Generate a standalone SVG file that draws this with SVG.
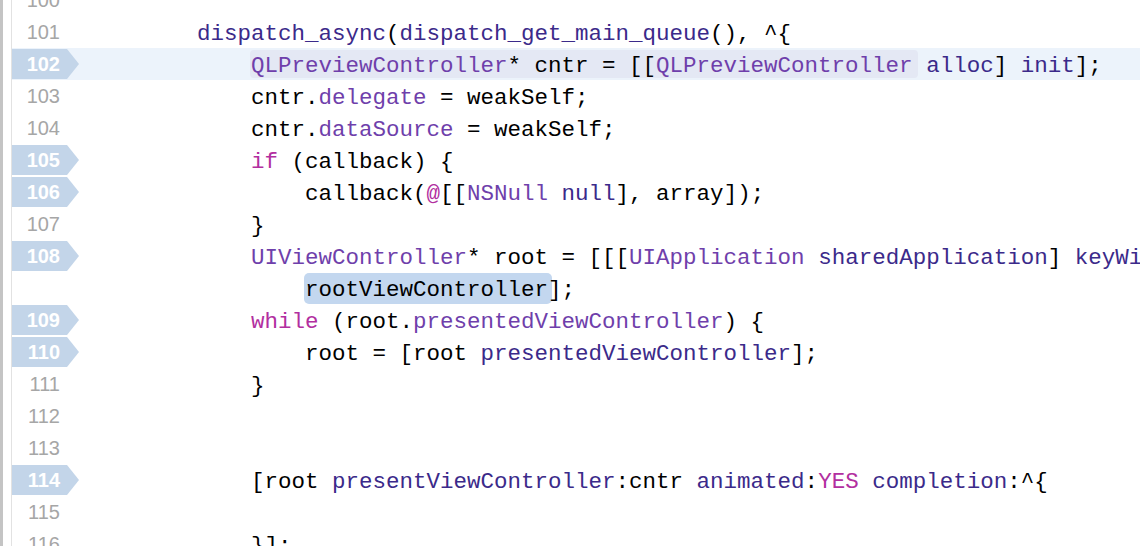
<svg xmlns="http://www.w3.org/2000/svg" width="1140" height="546" viewBox="0 0 1140 546">
<style>
.c{font-family:"Liberation Mono",monospace;font-size:22.5px;fill:#000;white-space:pre}
.n{font-family:"Liberation Sans",sans-serif;font-size:20px;fill:#a6a6a6;text-anchor:end}
.nb{font-family:"Liberation Sans",sans-serif;font-size:20px;fill:#fff;font-weight:bold;text-anchor:end}
.bp{fill:#c3d5e9}
.m{fill:#3b2a8a}.p{fill:#6f3fab}.k{fill:#b22fa0}
</style>
<rect width="1140" height="546" fill="#fff"/>
<rect x="0" y="0" width="3" height="546" fill="#c4c4c4"/>
<rect x="11" y="0" width="1" height="546" fill="#e2e2e2"/>
<rect x="12" y="48" width="1128" height="32" fill="#ecf3fb"/>
<rect x="250" y="50" width="668" height="28" rx="4" fill="#e4e8f4"/>
<rect x="304" y="273" width="248" height="31" rx="5" fill="#c3d7ef"/>
<defs><path id="b" d="M12,-15 H67 L79,0 L67,15 H12 Z"/></defs>
<g id="breakpoints" class="bp">
<use href="#b" y="64"/><use href="#b" y="160"/><use href="#b" y="192"/><use href="#b" y="256"/><use href="#b" y="320"/><use href="#b" y="352"/><use href="#b" y="480"/>
</g>
<g id="gutter">
<text class="n" x="60" y="7">100</text>
<text class="n" x="60" y="39">101</text>
<text class="nb" x="60" y="71">102</text>
<text class="n" x="60" y="103">103</text>
<text class="n" x="60" y="135">104</text>
<text class="nb" x="60" y="167">105</text>
<text class="nb" x="60" y="199">106</text>
<text class="n" x="60" y="231">107</text>
<text class="nb" x="60" y="263">108</text>
<text class="nb" x="60" y="327">109</text>
<text class="nb" x="60" y="359">110</text>
<text class="n" x="60" y="391">111</text>
<text class="n" x="60" y="423">112</text>
<text class="n" x="60" y="455">113</text>
<text class="nb" x="60" y="487">114</text>
<text class="n" x="60" y="519">115</text>
<text class="n" x="60" y="551">116</text>
</g>
<g id="code">
<text class="c" x="197" y="40"><tspan class="m">dispatch_async</tspan>(<tspan class="m">dispatch_get_main_queue</tspan>(), ^{</text>
<text class="c" x="251" y="72"><tspan class="p">QLPreviewController</tspan>* cntr = [[<tspan class="p">QLPreviewController</tspan> <tspan class="m">alloc</tspan>] <tspan class="m">init</tspan>];</text>
<text class="c" x="251" y="104">cntr.<tspan class="p">delegate</tspan> = weakSelf;</text>
<text class="c" x="251" y="136">cntr.<tspan class="p">dataSource</tspan> = weakSelf;</text>
<text class="c" x="251" y="168"><tspan class="k">if</tspan> (callback) {</text>
<text class="c" x="305" y="200">callback(<tspan class="k">@</tspan>[[<tspan class="p">NSNull</tspan> <tspan class="m">null</tspan>], array]);</text>
<text class="c" x="251" y="232">}</text>
<text class="c" x="251" y="264"><tspan class="p">UIViewController</tspan>* root = [[[<tspan class="p">UIApplication</tspan> <tspan class="m">sharedApplication</tspan>] <tspan class="m">keyWindow</tspan>]</text>
<text class="c" x="305" y="296">rootViewController];</text>
<text class="c" x="251" y="328"><tspan class="k">while</tspan> (root.<tspan class="p">presentedViewController</tspan>) {</text>
<text class="c" x="305" y="360">root = [root <tspan class="m">presentedViewController</tspan>];</text>
<text class="c" x="251" y="392">}</text>
<text class="c" x="251" y="488">[root <tspan class="m">presentViewController</tspan>:cntr <tspan class="m">animated</tspan>:<tspan class="k">YES</tspan> <tspan class="m">completion</tspan>:^{</text>
<text class="c" x="251" y="552">}];</text>
</g>
</svg>
